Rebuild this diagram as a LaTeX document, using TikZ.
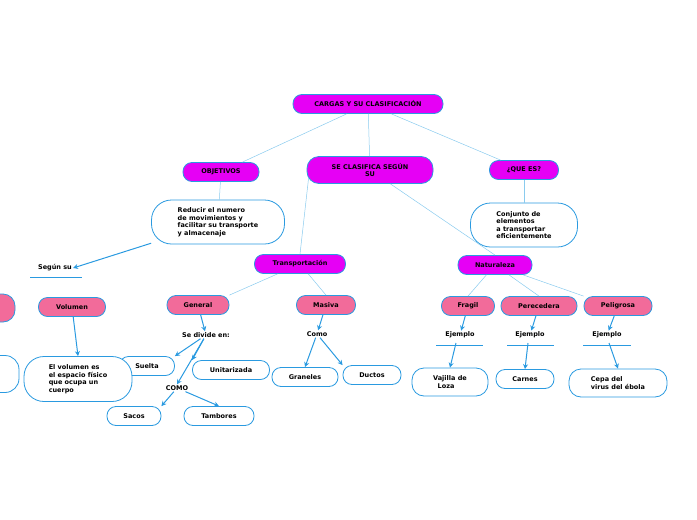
\documentclass[tikz,border=0pt]{standalone}
\usepackage{fontspec}
\setmainfont{DejaVu Sans}
\usetikzlibrary{arrows.meta}
\definecolor{mag}{HTML}{E600F5}
\definecolor{pk}{HTML}{F26B9A}
\definecolor{bd}{HTML}{2A9AE0}
\definecolor{ln}{HTML}{8ACBEE}
\begin{document}
\begin{tikzpicture}[x=1pt,y=-1pt,
  box/.style={draw=bd,line width=0.8pt,rounded corners=9pt,minimum height=19pt,inner sep=2pt,font=\bfseries\fontsize{6.5}{7.5}\selectfont,align=center},
  mbox/.style={box,fill=mag},
  pbox/.style={box,fill=pk},
  wbox/.style={box,fill=white,align=left},
  txt/.style={font=\bfseries\fontsize{6.5}{7.5}\selectfont,inner sep=1pt},
  thin/.style={draw=ln,line width=0.5pt},
  arr/.style={draw=bd,line width=1pt,-{Stealth[length=5pt,width=5pt]}},
  ul/.style={draw=bd,line width=0.6pt}]
\path[use as bounding box] (0,0) rectangle (697,520);
\node[mbox,minimum width=150pt] (cargas) at (368,104) {CARGAS Y SU CLASIFICACIÓN};
\node[mbox,minimum width=76pt] (obj) at (221,172) {OBJETIVOS};
\node[mbox,minimum width=126pt,minimum height=27pt,rounded corners=12pt] (sec) at (370,170) {SE CLASIFICA SEGÚN\\SU};
\node[mbox,minimum width=69pt] (que) at (524,170) {¿QUE ES?};
\node[wbox,minimum width=133pt,minimum height=44pt,rounded corners=20pt] (red) at (218,222) {Reducir el numero\\de movimientos y\\facilitar su transporte\\y almacenaje};
\node[wbox,minimum width=107pt,minimum height=44pt,rounded corners=20pt] (conj) at (524,225) {Conjunto de\\elementos\\a transportar\\eficientemente};
\node[txt] (segun) at (55,268) {Según su};
\draw[ul] (30,277) -- (82,277);
\node[mbox,minimum width=91pt] (trans) at (300,264) {Transportación};
\node[mbox,minimum width=74pt] (nat) at (495,265) {Naturaleza};
\node[pbox,minimum width=40pt,minimum height=28pt,rounded corners=12pt] (left) at (-5,308) {};
\node[pbox,minimum width=67pt] (vol) at (72,307) {Volumen};
\node[pbox,minimum width=62pt] (gen) at (198,305) {General};
\node[pbox,minimum width=59pt] (mas) at (326,305) {Masiva};
\node[pbox,minimum width=53pt] (fra) at (468,306) {Fragil};
\node[pbox,minimum width=76pt] (per) at (539,306) {Perecedera};
\node[pbox,minimum width=68pt] (pel) at (618,306) {Peligrosa};
\node[txt] (sed) at (206,335) {Se divide en:};
\node[txt] (como1) at (317,334) {Como};
\node[txt] (ej1) at (460,335) {Ejemplo};
\node[txt] (ej2) at (530,335) {Ejemplo};
\node[txt] (ej3) at (607,335) {Ejemplo};
\draw[ul] (436,345) -- (483,345);
\draw[ul] (507,345) -- (554,345);
\draw[ul] (583,345) -- (631,345);
\node[wbox,minimum width=40pt,minimum height=37pt,rounded corners=14pt] (leftw) at (-1,374) {};
\node[wbox,minimum width=55pt] (sue) at (147,366) {Suelta};
\node[wbox,minimum width=108pt,minimum height=45pt,rounded corners=20pt] (elv) at (78,379) {El volumen es\\el espacio físico\\que ocupa un\\cuerpo};
\node[wbox,minimum width=77pt,align=center] (uni) at (231,370) {Unitarizada};
\node[wbox,minimum width=66pt,align=center] (gra) at (305,377) {Graneles};
\node[wbox,minimum width=58pt,align=center] (duc) at (372,375) {Ductos};
\node[txt] (como2) at (177,388) {COMO};
\node[wbox,minimum width=54pt,align=center] (sac) at (134,416) {Sacos};
\node[wbox,minimum width=70pt,align=center] (tam) at (219,416) {Tambores};
\node[wbox,minimum width=76pt,minimum height=28pt,rounded corners=12pt] (vaj) at (450,382) {Vajilla de\\\ \ Loza};
\node[wbox,minimum width=58pt,align=center] (car) at (525,379) {Carnes};
\node[wbox,minimum width=98pt,minimum height=28pt,rounded corners=12pt] (cepa) at (618,383) {Cepa del\\virus del ébola};
% thin lines
\draw[thin] (cargas) -- (obj);
\draw[thin] (cargas) -- (sec);
\draw[thin] (cargas) -- (que);
\draw[thin] (obj) -- (red);
\draw[thin] (sec.west) ++(2,8) -- (trans.north);
\draw[thin] (sec) -- (nat.north);
\draw[thin] (que) -- (conj);
\draw[thin] (trans) -- (gen.north east);
\draw[thin] (trans) -- (mas.north);
\draw[thin] (nat) -- (fra.north);
\draw[thin] (nat) -- (per.north);
\draw[thin] (nat) -- (pel.north west);
% arrows
\draw[arr] (red) -- (segun.east);
\draw[arr] (vol) -- (elv.north);
\draw[arr] (gen) -- (sed);
\draw[arr] (sed) -- (sue.north east);
\draw[arr] (sed) -- (como2.north);
\draw[arr] (sed) -- (uni.north west);
\draw[arr] (como2) -- (sac.north east);
\draw[arr] (como2) -- (tam.north);
\draw[arr] (mas) -- (como1);
\draw[arr] (como1) -- (gra.north);
\draw[arr] (como1) -- (duc.north west);
\draw[arr] (fra) -- (ej1);
\draw[arr] (per) -- (ej2);
\draw[arr] (pel) -- (ej3);
\draw[arr] (ej1) ++(-4,8) -- (vaj.north);
\draw[arr] (ej2) ++(-2,8) -- (car.north);
\draw[arr] (ej3) ++(2,8) -- (cepa.north);
\end{tikzpicture}
\end{document}
